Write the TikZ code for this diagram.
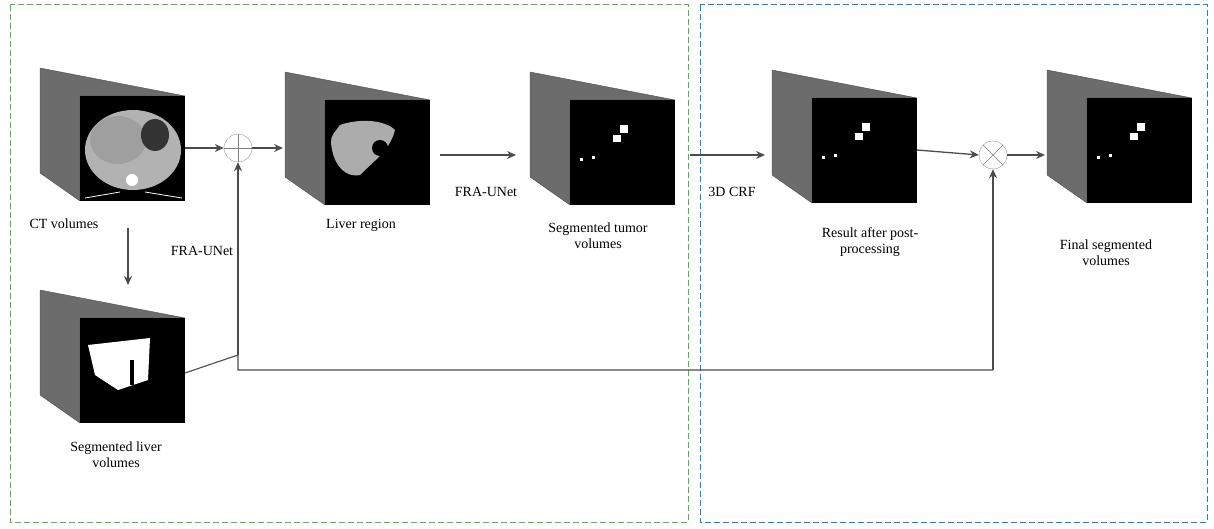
\documentclass[tikz,border=0pt]{standalone}
\usepackage{fontspec}
\setmainfont{Liberation Serif}
\usetikzlibrary{arrows.meta}
\begin{document}
\begin{tikzpicture}[x=1pt,y=-1pt,
  arr/.style={draw=black!70,line width=1.3pt,-{Stealth[length=9pt,width=8pt]}},
  ln/.style={draw=black!70,line width=1.1pt},
  lbl/.style={font=\fontsize{14}{16}\selectfont,align=center},
  circ/.style={circle,draw=black!40,fill=white,minimum size=28pt,inner sep=0pt}]
\useasboundingbox (0,0) rectangle (1214,529);
\draw[dashed,draw=green!60!black!70,line width=1pt,dash pattern=on 6pt off 3pt] (10,5) rectangle (688,522);
\draw[dashed,draw=cyan!70!blue,line width=1pt,dash pattern=on 6pt off 3pt] (700,5) rectangle (1207,522);
% cube macro via pic
\tikzset{cube/.pic={
  \fill[gray!85!black,draw=gray!60!black] (-40,-28) -- (105,0) -- (0,0) -- (0,105) -- (-40,77) -- cycle;
  \fill[black] (0,0) rectangle (105,105);
  \coordinate (-w) at (0,52); \coordinate (-e) at (105,52);
}}
\pic (c1) at (80,96) {cube};
\pic (c2) at (325,100) {cube};
\pic (c3) at (570,100) {cube};
\pic (c4) at (812,98) {cube};
\pic (c5) at (1087,98) {cube};
\pic (c6) at (80,318) {cube};
% images
\fill[gray!60] (133,150) ellipse (48 and 40);
\fill[gray!75] (118,140) ellipse (28 and 24);
\fill[gray!40!black] (155,135) ellipse (14 and 16);
\fill[white] (132,180) circle (6);
\draw[white,line width=0.8pt] (85,198) -- (120,192);
\draw[white,line width=0.8pt] (145,192) -- (182,198);
\fill[gray!65] (340,125) .. controls (360,118) and (385,120) .. (395,130) .. controls (390,150) and (375,160) .. (360,175) .. controls (345,178) and (335,165) .. (332,150) .. controls (330,138) .. cycle;
\fill[black] (380,148) circle (8);
\fill[white] (88,345) -- (150,338) -- (148,380) -- (118,390) -- (95,375) -- cycle;
\fill[black] (130,360) rectangle (134,385);
\foreach \ox/\oy in {570/100,812/98,1087/98}{
  \fill[white] (\ox+50,\oy+25) rectangle ++(8,8);
  \fill[white] (\ox+43,\oy+35) rectangle ++(8,7);
  \fill[white] (\ox+10,\oy+58) rectangle ++(3,3);
  \fill[white] (\ox+22,\oy+56) rectangle ++(3,3);
}
% circles
\node[circ] (plus) at (238,148) {};
\draw[gray] (plus.north) -- (plus.south) (plus.west) -- (plus.east);
\node[circ] (times) at (993,155) {};
\draw[gray] (times.north west) -- (times.south east) (times.north east) -- (times.south west);
% arrows
\draw[arr] (c1-e) -- (plus.west);
\draw[arr] (plus.east) -- (283,148);
\coordinate (a2) at (440,155); \coordinate (b2) at (516,155);
\draw[arr] (a2) -- (b2);
\coordinate (a3) at (690,155); \coordinate (b3) at (765,155);
\draw[arr] (a3) -- (b3);
\draw[arr] (c4-e) -- (times.west);
\draw[arr] (times.east) -- (1045,155);
\coordinate (d1) at (128,228); \coordinate (d2) at (128,285);
\draw[arr] (d1) -- (d2);
\coordinate (j) at (238,355); \coordinate (k) at (238,370); \coordinate (m) at (993,370);
\draw[ln] (c6-e) ++(0,3) -- (j) -- (k) -- (m);
\draw[arr] (j) -- (plus.south);
\draw[arr] (m) -- (times.south);
% labels
\node[lbl] (t1) at (64,224) {CT volumes};
\node[lbl] (t2) at (202,251) {FRA-UNet};
\node[lbl] (t3) at (361,225) {Liver region};
\node[lbl] (t4) at (486,192) {FRA-UNet};
\node[lbl] (t5) at (598,236) {Segmented tumor\\volumes};
\node[lbl] (t6) at (732,192) {3D CRF};
\node[lbl] (t7) at (870,242) {Result after post-\\processing};
\node[lbl] (t8) at (1106,253) {Final segmented\\volumes};
\node[lbl] (t9) at (116,455) {Segmented liver\\volumes};
\end{tikzpicture}
\end{document}
